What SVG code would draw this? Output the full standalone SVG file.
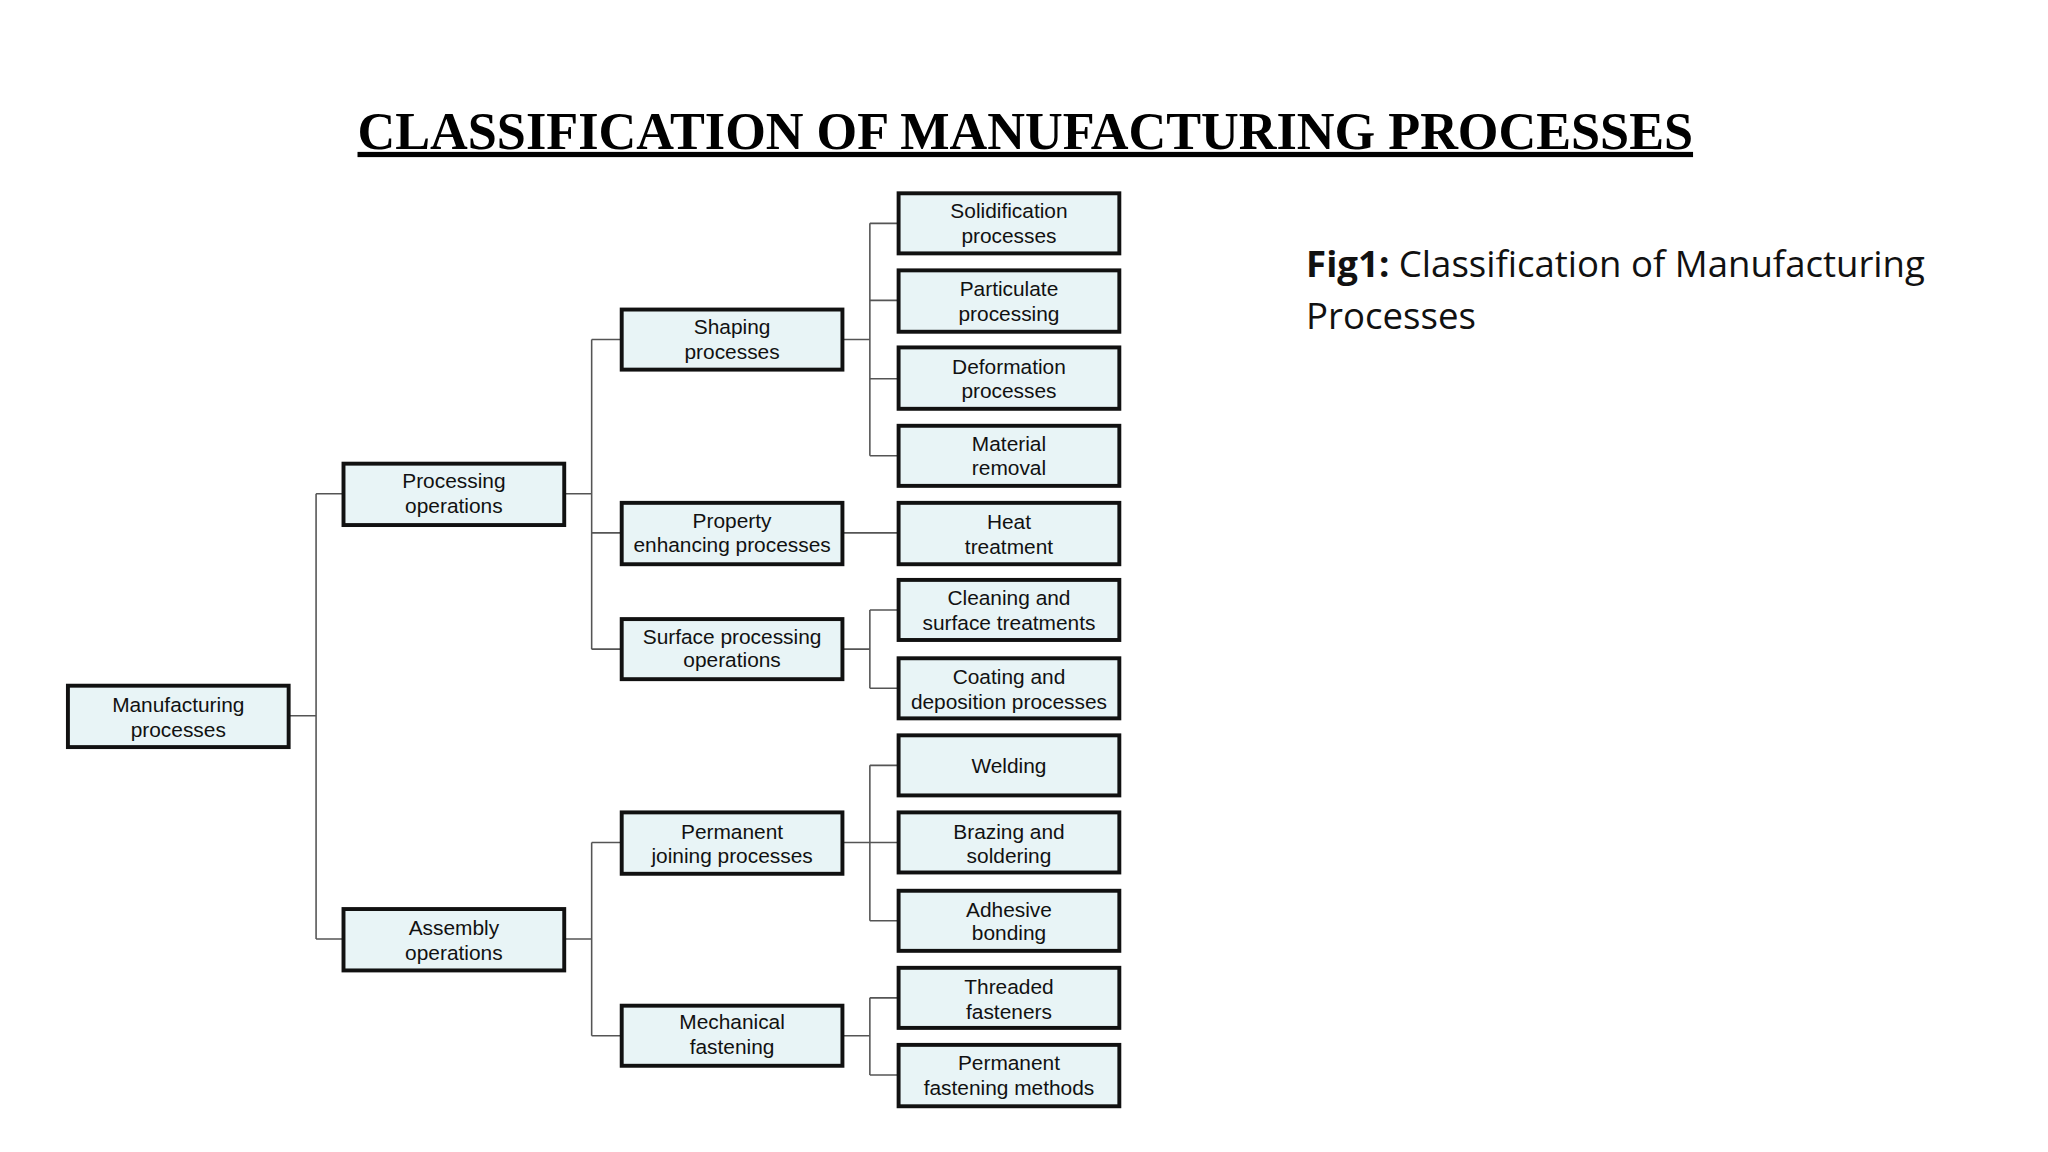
<svg xmlns="http://www.w3.org/2000/svg" width="2048" height="1152" viewBox="0 0 2048 1152">
<style>
.b{fill:#e8f4f6;stroke:#111;stroke-width:3}
.t{font-family:"Liberation Sans",Arial,sans-serif;font-size:16px;fill:#111;text-anchor:middle}
.c{fill:none;stroke:#555;stroke-width:1.2}
</style>
<rect width="2048" height="1152" fill="#fff"/>
<g transform="scale(1.3061)">
<text id="title" x="785" y="114" font-family="Liberation Serif,serif" font-weight="bold" font-size="40" text-anchor="middle" text-decoration="underline">CLASSIFICATION OF MANUFACTURING PROCESSES</text>
<text id="caption" font-family="Open Sans,sans-serif" font-size="28" fill="#111"><tspan x="1000" y="212"><tspan font-weight="bold">Fig1:</tspan> Classification of Manufacturing</tspan><tspan x="1000" y="252">Processes</tspan></text>
<g id="connectors" class="c">
<path d="M221 548H242M242 378V719M242 378H263M242 719H263"/>
<path d="M432 378H453M453 260V497M453 260H476M453 408H476M453 497H476"/>
<path d="M432 719H453M453 645V793M453 645H476M453 793H476"/>
<path d="M645 260H666M666 171V349M666 171H688M666 230H688M666 290H688M666 349H688"/>
<path d="M645 408H688"/>
<path d="M645 497H666M666 467V527M666 467H688M666 527H688"/>
<path d="M645 645H666M666 586V705M666 586H688M666 645H688M666 705H688"/>
<path d="M645 793H666M666 764V823M666 764H688M666 823H688"/>
</g>
<g id="n-manufacturing"><rect class="b" x="52" y="525" width="169" height="47"/><text class="t" x="136.5" y="545">Manufacturing</text><text class="t" x="136.5" y="564">processes</text></g>
<g id="n-processing"><rect class="b" x="263" y="355" width="169" height="47"/><text class="t" x="347.5" y="374">Processing</text><text class="t" x="347.5" y="393">operations</text></g>
<g id="n-assembly"><rect class="b" x="263" y="696" width="169" height="47"/><text class="t" x="347.5" y="716">Assembly</text><text class="t" x="347.5" y="735">operations</text></g>
<g id="n-shaping"><rect class="b" x="476" y="237" width="169" height="46"/><text class="t" x="560.5" y="256">Shaping</text><text class="t" x="560.5" y="275">processes</text></g>
<g id="n-property"><rect class="b" x="476" y="385" width="169" height="47"/><text class="t" x="560.5" y="404">Property</text><text class="t" x="560.5" y="423">enhancing processes</text></g>
<g id="n-surface"><rect class="b" x="476" y="474" width="169" height="46"/><text class="t" x="560.5" y="493">Surface processing</text><text class="t" x="560.5" y="511">operations</text></g>
<g id="n-permjoin"><rect class="b" x="476" y="622" width="169" height="47"/><text class="t" x="560.5" y="642">Permanent</text><text class="t" x="560.5" y="661">joining processes</text></g>
<g id="n-mechanical"><rect class="b" x="476" y="770" width="169" height="46"/><text class="t" x="560.5" y="788">Mechanical</text><text class="t" x="560.5" y="807">fastening</text></g>
<g id="n-solid"><rect class="b" x="688" y="148" width="169" height="46"/><text class="t" x="772.5" y="167">Solidification</text><text class="t" x="772.5" y="186">processes</text></g>
<g id="n-part"><rect class="b" x="688" y="207" width="169" height="47"/><text class="t" x="772.5" y="227">Particulate</text><text class="t" x="772.5" y="246">processing</text></g>
<g id="n-deform"><rect class="b" x="688" y="266" width="169" height="47"/><text class="t" x="772.5" y="286">Deformation</text><text class="t" x="772.5" y="305">processes</text></g>
<g id="n-material"><rect class="b" x="688" y="326" width="169" height="46"/><text class="t" x="772.5" y="345">Material</text><text class="t" x="772.5" y="364">removal</text></g>
<g id="n-heat"><rect class="b" x="688" y="385" width="169" height="47"/><text class="t" x="772.5" y="405">Heat</text><text class="t" x="772.5" y="424">treatment</text></g>
<g id="n-clean"><rect class="b" x="688" y="444" width="169" height="46"/><text class="t" x="772.5" y="463">Cleaning and</text><text class="t" x="772.5" y="482">surface treatments</text></g>
<g id="n-coat"><rect class="b" x="688" y="504" width="169" height="46"/><text class="t" x="772.5" y="524">Coating and</text><text class="t" x="772.5" y="543">deposition processes</text></g>
<g id="n-weld"><rect class="b" x="688" y="563" width="169" height="46"/><text class="t" x="772.5" y="592">Welding</text></g>
<g id="n-braze"><rect class="b" x="688" y="622" width="169" height="46"/><text class="t" x="772.5" y="642">Brazing and</text><text class="t" x="772.5" y="661">soldering</text></g>
<g id="n-adhesive"><rect class="b" x="688" y="682" width="169" height="46"/><text class="t" x="772.5" y="702">Adhesive</text><text class="t" x="772.5" y="720">bonding</text></g>
<g id="n-threaded"><rect class="b" x="688" y="741" width="169" height="46"/><text class="t" x="772.5" y="761">Threaded</text><text class="t" x="772.5" y="780">fasteners</text></g>
<g id="n-permfast"><rect class="b" x="688" y="800" width="169" height="47"/><text class="t" x="772.5" y="819">Permanent</text><text class="t" x="772.5" y="838">fastening methods</text></g>
</g>
</svg>
